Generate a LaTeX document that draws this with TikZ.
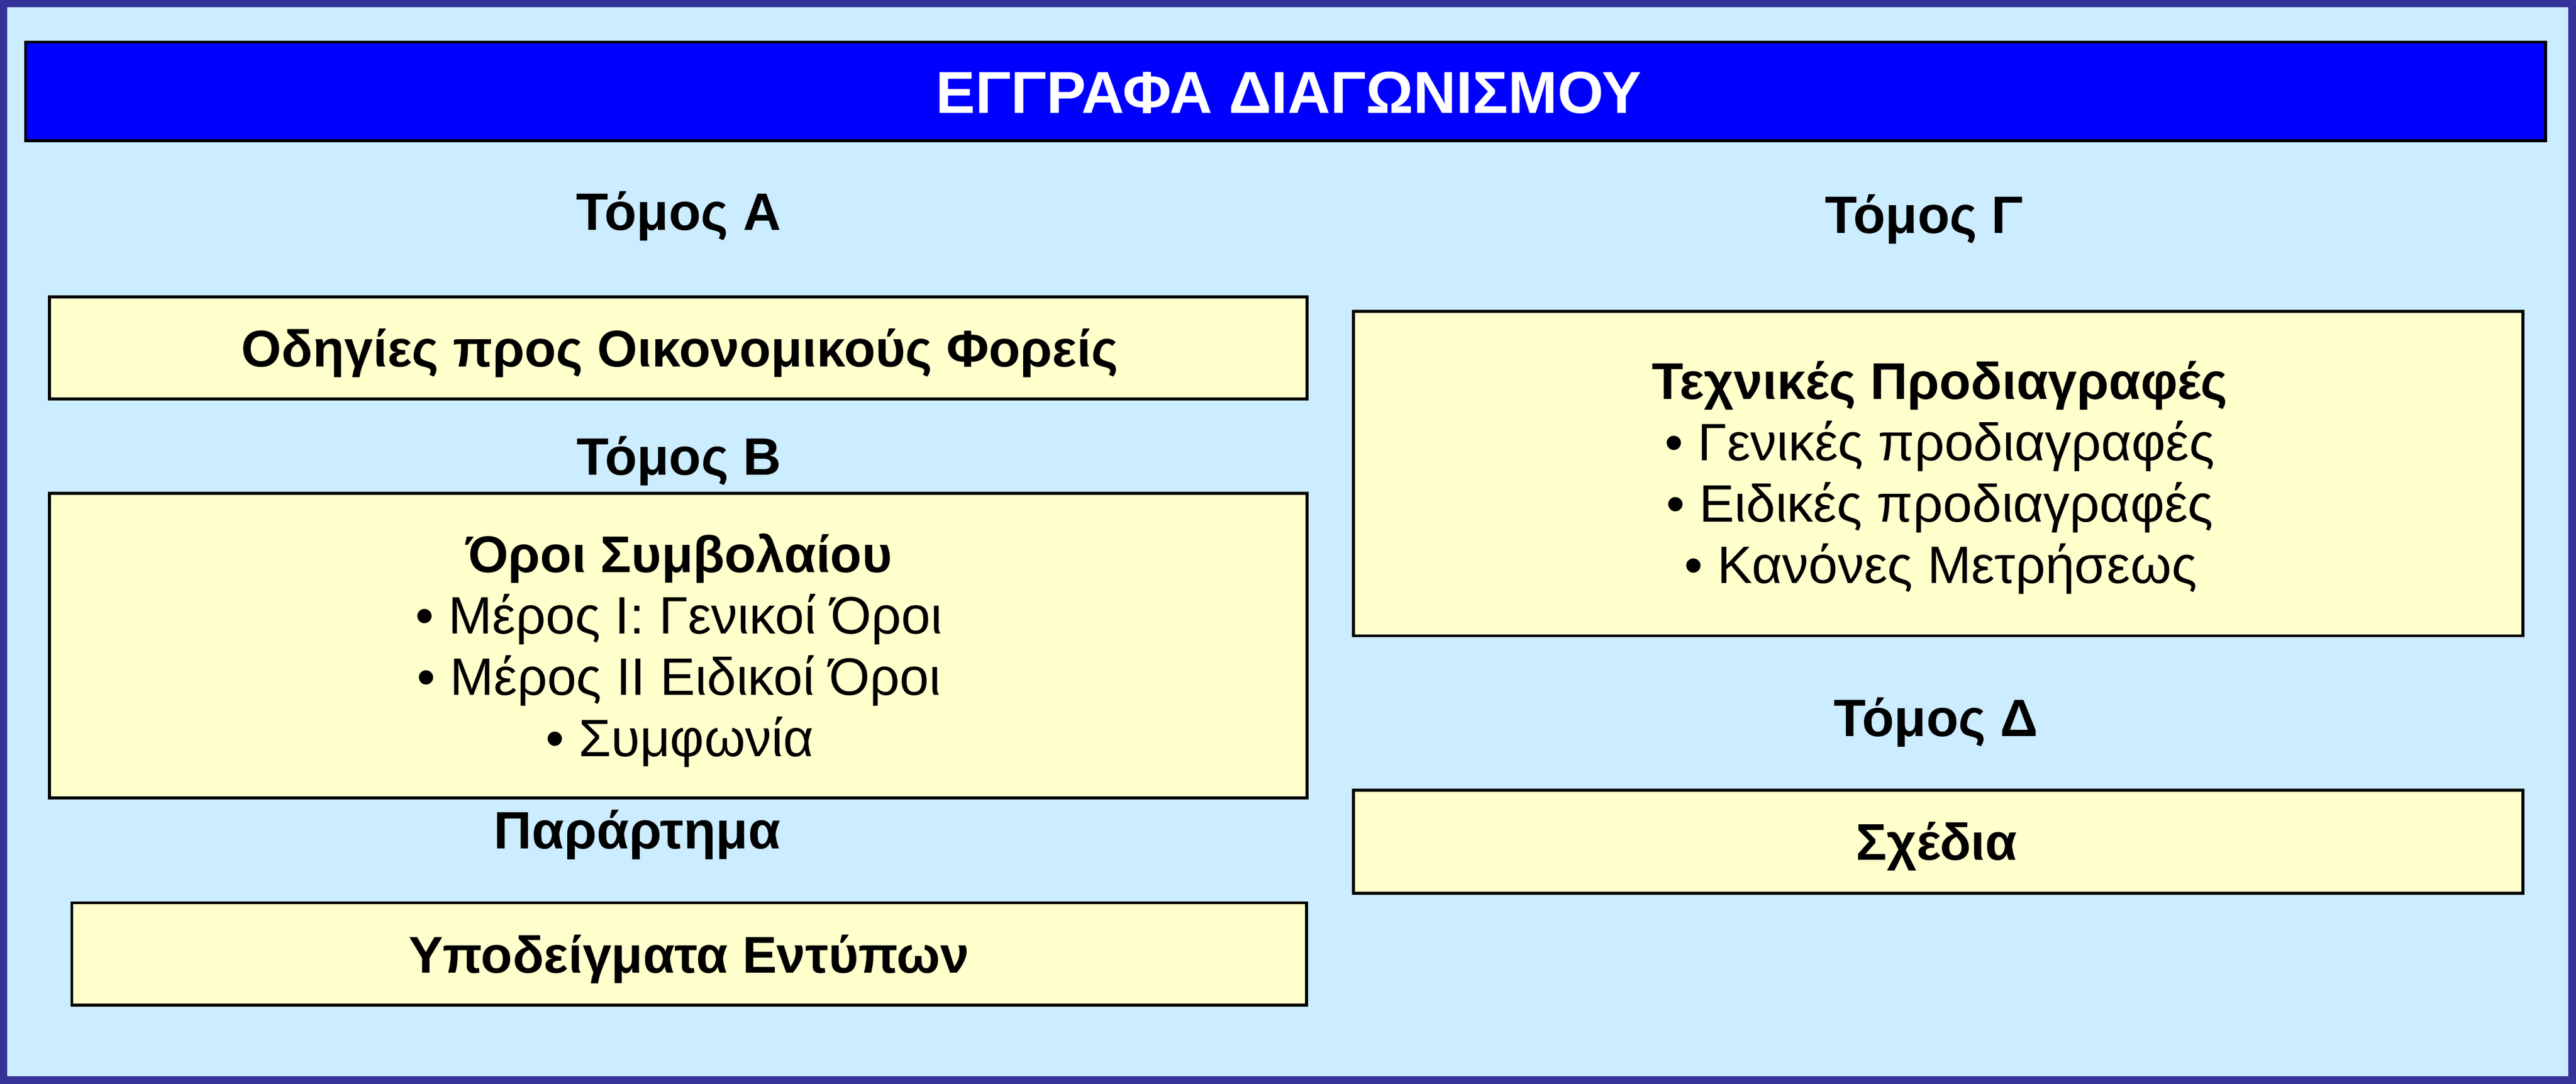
\documentclass[tikz,border=0pt]{standalone}
\usepackage{fontspec}
\setmainfont{Liberation Sans}
\definecolor{framecol}{HTML}{333399}
\definecolor{bgcol}{HTML}{CCECFF}
\definecolor{titlecol}{HTML}{0000FF}
\definecolor{boxcol}{HTML}{FFFFCC}
\begin{document}
\begin{tikzpicture}[x=0.5pt,y=-0.5pt,
  panel/.style={draw=black,line width=0.9pt,fill=boxcol,rectangle,inner sep=0pt,outer sep=0pt},
  titlepanel/.style={draw=black,line width=0.9pt,fill=titlecol,rectangle,inner sep=0pt,outer sep=0pt},
  lbl/.style={anchor=base,inner sep=0pt,outer sep=0pt,font=\fontsize{16}{18}\selectfont\bfseries},
  lblin/.style={anchor=base,inner sep=0pt,outer sep=0pt,font=\fontsize{15.7}{18}\selectfont\bfseries},
  txt/.style={anchor=base,inner sep=0pt,outer sep=0pt,font=\fontsize{16}{18}\selectfont},
  ttl/.style={anchor=base,inner sep=0pt,outer sep=0pt,text=white,font=\fontsize{18}{20}\selectfont\bfseries}]
\useasboundingbox (0,0) rectangle (1567,659);
\fill[framecol] (0,0) rectangle (1567,659);
\fill[bgcol] (4.3,4.3) rectangle (1562.2,654.4);
% boxes
\node[titlepanel,minimum width=766.5pt,minimum height=30.05pt] (title) at (782,55.55) {};
\node[panel,minimum width=382.45pt,minimum height=31.05pt] (boxA) at (412.65,211.45) {};
\node[panel,minimum width=382.45pt,minimum height=92.6pt] (boxB) at (412.65,392.5) {};
\node[panel,minimum width=375.55pt,minimum height=31.1pt] (boxP) at (419.25,580) {};
\node[panel,minimum width=355.65pt,minimum height=98.6pt] (boxG) at (1178.95,288) {};
\node[panel,minimum width=355.65pt,minimum height=31.35pt] (boxD) at (1178.95,511.75) {};
% texts
\node[ttl] (ttext) at (783.9,68.9) {ΕΓΓΡΑΦΑ ΔΙΑΓΩΝΙΣΜΟΥ};
\node[lbl] (tA) at (412.8,140) {Τόμος Α};
\node[lblin] (a1) at (413.5,223.1) {Οδηγίες προς Οικονομικούς Φορείς};
\node[lbl] (tB) at (413,288.7) {Τόμος Β};
\node[lblin] (b1) at (413,348) {Όροι Συμβολαίου};
\node[txt] (b2) at (413,385.3) {• Μέρος Ι: Γενικοί Όροι};
\node[txt] (b3) at (413,422.6) {• Μέρος ΙΙ Ειδικοί Όροι};
\node[txt] (b4) at (413.5,459.9) {• Συμφωνία};
\node[lbl] (tP) at (387.6,516) {Παράρτημα};
\node[lblin] (p1) at (419,591.6) {Υποδείγματα Εντύπων};
\node[lbl] (tG) at (1170.5,141.9) {Τόμος Γ};
\node[lblin] (g1) at (1180,242.8) {Τεχνικές Προδιαγραφές};
\node[txt] (g2) at (1180,280.1) {• Γενικές προδιαγραφές};
\node[txt] (g3) at (1180,317.4) {• Ειδικές προδιαγραφές};
\node[txt] (g4) at (1180.5,354.7) {• Κανόνες Μετρήσεως};
\node[lbl] (tD) at (1177.7,447.8) {Τόμος Δ};
\node[lblin] (d1) at (1178,523) {Σχέδια};
\end{tikzpicture}
\end{document}
